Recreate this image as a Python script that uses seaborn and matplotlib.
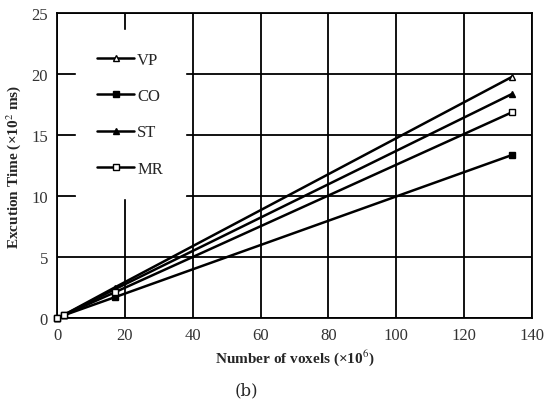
import matplotlib
matplotlib.use('Agg')
import pandas as pd
import matplotlib.pyplot as plt
import seaborn as sns

sns.set_style('white')
plt.rcParams['font.family'] = ['Liberation Serif', 'DejaVu Serif']
plt.rcParams['mathtext.fontset'] = 'stix'

# data
voxels = [0, 2, 17, 134]
vp = [0, 0.25, 2.5, 19.75]
co = [0, 0.22, 1.7, 13.35]
st = [0, 0.24, 2.35, 18.35]
mr = [0, 0.23, 2.1, 16.85]

series = ['VP', 'CO', 'ST', 'MR']
markers = {'VP': '^', 'CO': 's', 'ST': '^', 'MR': 's'}
faces = {'VP': 'white', 'CO': 'black', 'ST': 'black', 'MR': 'white'}

df = pd.DataFrame({'voxels': voxels * 4,
                   'time': vp + co + st + mr,
                   'method': [m for m in series for _ in voxels]})

fig = plt.figure(figsize=(5.5, 4.06), dpi=100)
ax = fig.add_axes([57/550, 1 - 319/406, (532-57)/550, (319-14)/406])

for m in series:
    sub = df[df['method'] == m]
    sns.lineplot(data=sub, x='voxels', y='time', ax=ax, color='black',
                 linewidth=1.8, marker=markers[m], markersize=5,
                 markerfacecolor=faces[m], markeredgecolor='black',
                 markeredgewidth=1, label=m, clip_on=False, zorder=5)

ax.set_xlim(0, 140)
ax.set_ylim(0, 25)
ax.set_xticks(range(0, 141, 20))
ax.set_yticks(range(0, 26, 5))
ax.grid(True, color='black', linewidth=1.3)
for s in ax.spines.values():
    s.set_color('black')
    s.set_linewidth(1.3)
ax.tick_params(direction='inout', length=6, width=1.2, labelsize=12, colors='black')
for t in ax.get_xticklabels() + ax.get_yticklabels():
    t.set_color('#333333')

ax.set_xlabel('Number of voxels (×10$^6$)', fontsize=11, fontweight='bold', labelpad=3)
ax.set_ylabel('Excution Time (×10$^2$ ms)', fontsize=11, fontweight='bold', labelpad=6)

leg = ax.legend(loc='upper left', bbox_to_anchor=(0.039, 0.943), frameon=True,
                fontsize=12, handlelength=2.2, labelspacing=1.21, borderpad=1.3,
                handletextpad=0.2, borderaxespad=0)
leg.get_frame().set_facecolor('white')
leg.get_frame().set_edgecolor('white')
leg.get_frame().set_alpha(1)
leg.set_zorder(10)

fig.text(246/550, 1 - 391/406, '(b)', fontsize=12, ha='center', va='center',
         family='DejaVu Serif')

fig.savefig('out.png', dpi=100, facecolor='white')
